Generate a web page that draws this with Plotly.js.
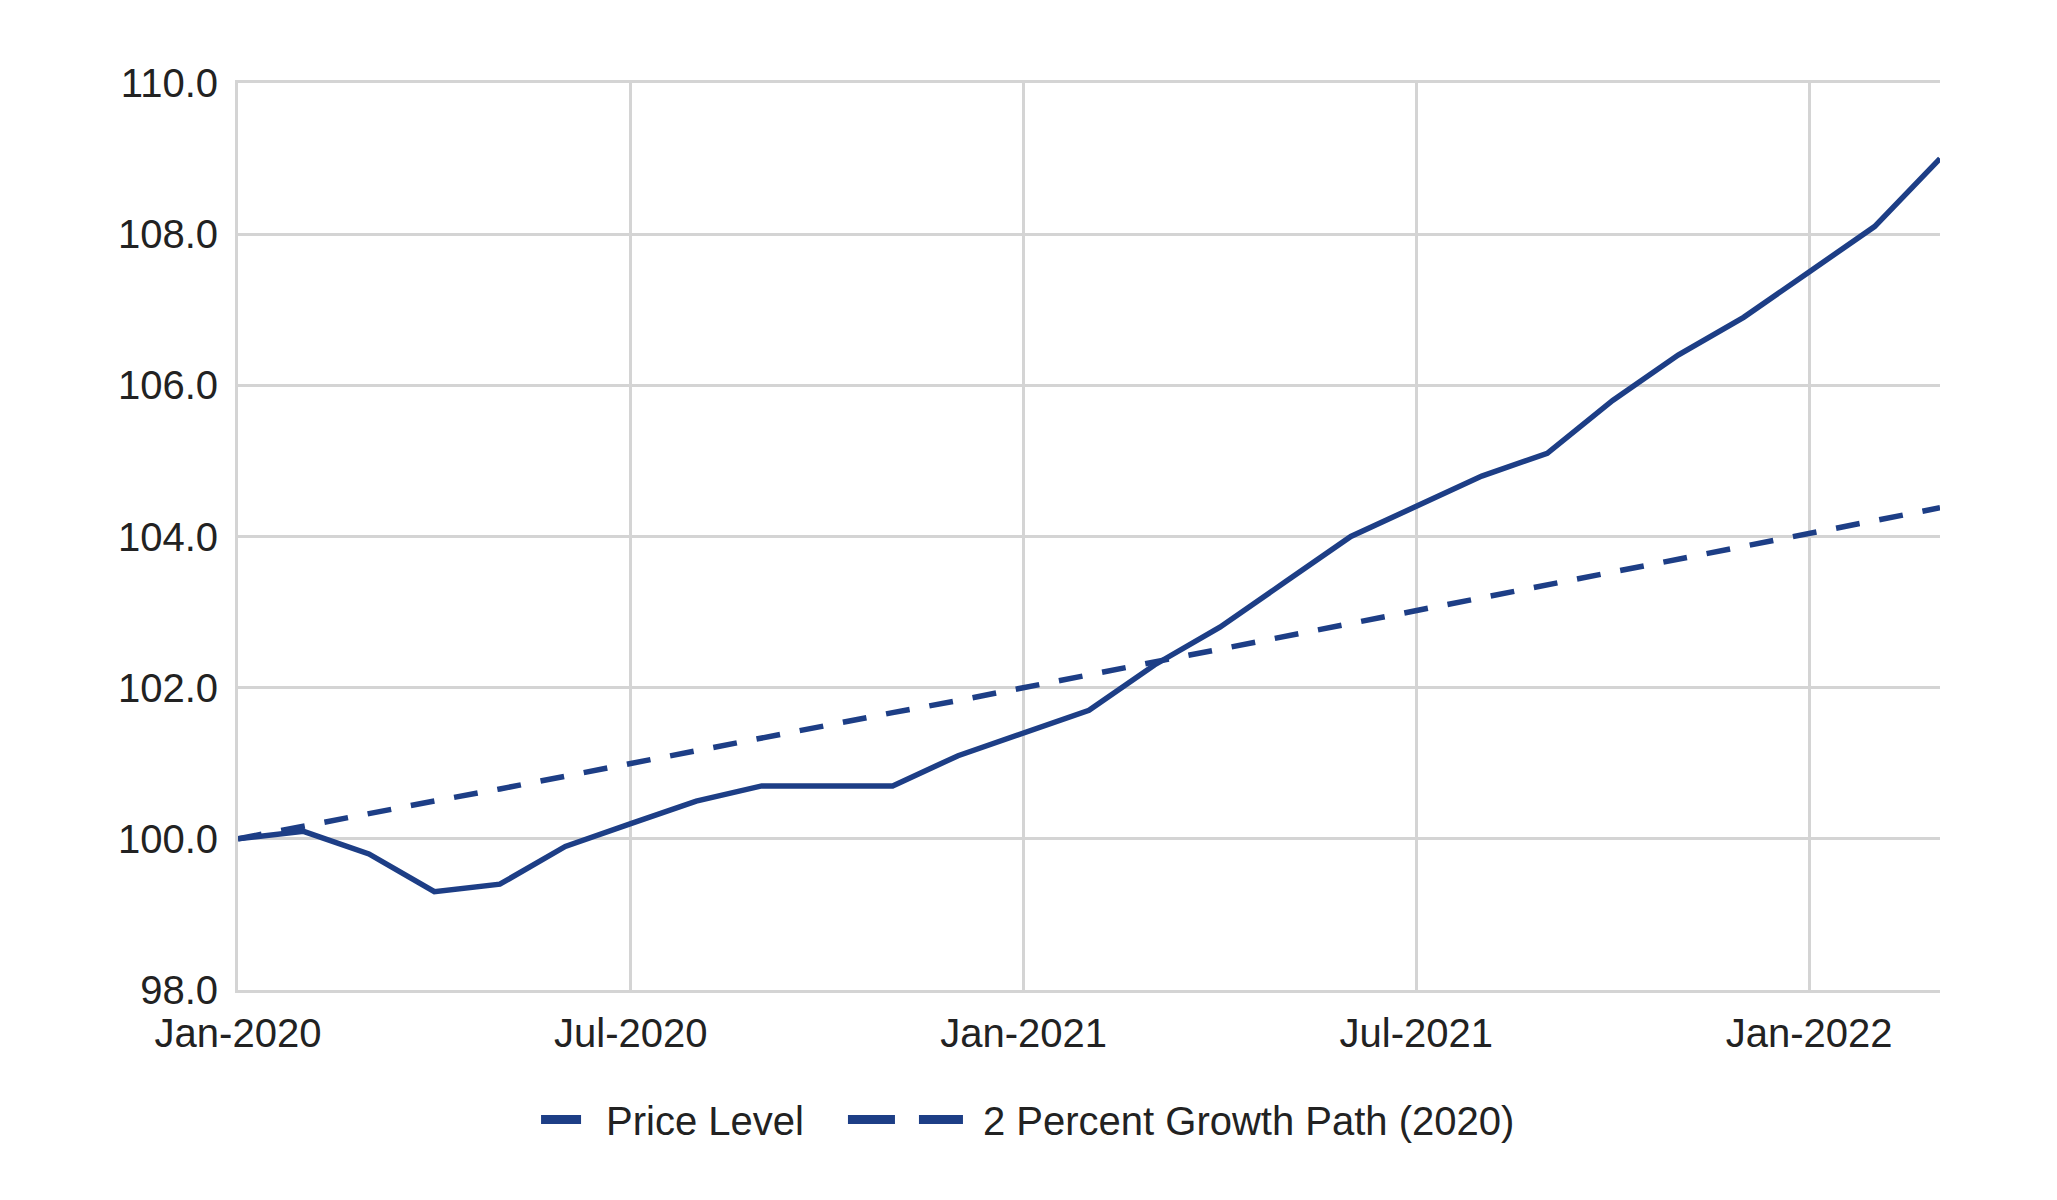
<!DOCTYPE html>
<html>
<head>
<meta charset="utf-8">
<script src="https://cdn.plot.ly/plotly-3.0.1.min.js"></script>
<style>
  html, body { margin: 0; padding: 0; background: #ffffff; }
  #grafico { width: 2057px; height: 1200px; }
</style>
</head>
<body>
<div id="grafico"></div>
<script>
// monthly categories, Jan-2020 .. Mar-2022
var meses = [
  'Jan-2020', 'Feb-2020', 'Mar-2020', 'Apr-2020', 'May-2020', 'Jun-2020',
  'Jul-2020', 'Aug-2020', 'Sep-2020', 'Oct-2020', 'Nov-2020', 'Dec-2020',
  'Jan-2021', 'Feb-2021', 'Mar-2021', 'Apr-2021', 'May-2021', 'Jun-2021',
  'Jul-2021', 'Aug-2021', 'Sep-2021', 'Oct-2021', 'Nov-2021', 'Dec-2021',
  'Jan-2022', 'Feb-2022', 'Mar-2022'
];

var nivelPrecos = [
  100.0, 100.1, 99.8, 99.3, 99.4, 99.9,
  100.2, 100.5, 100.7, 100.7, 100.7, 101.1,
  101.4, 101.7, 102.3, 102.8, 103.4, 104.0,
  104.4, 104.8, 105.1, 105.8, 106.4, 106.9,
  107.5, 108.1, 109.0
];

var trajetoria2pct = [
  100.0, 100.17, 100.33, 100.50, 100.66, 100.83,
  101.0, 101.16, 101.33, 101.50, 101.67, 101.83,
  102.0, 102.17, 102.34, 102.51, 102.68, 102.85,
  103.02, 103.19, 103.36, 103.53, 103.70, 103.87,
  104.04, 104.21, 104.38
];

var nomes = ['Price Level', '2 Percent Growth Path (2020)'];
var ticksX = ['Jan-2020', 'Jul-2020', 'Jan-2021', 'Jul-2021', 'Jan-2022'];
var ticksY = [98, 100, 102, 104, 106, 108, 110];

var azul = '#1d3e86';
var cinza = '#d4d4d4';
var fonte = 'Liberation Sans, Arial, sans-serif';

var traces = [
  {
    x: meses, y: nivelPrecos,
    type: 'scatter', mode: 'lines', name: nomes[0], showlegend: false,
    line: { color: azul, width: 5.5 }
  },
  {
    x: meses, y: trajetoria2pct,
    type: 'scatter', mode: 'lines', name: nomes[1], showlegend: false,
    line: { color: azul, width: 5.5, dash: '24px,20px' }
  },
  // legend entries only (short thick symbols like the original legend)
  {
    x: [null], y: [null],
    type: 'scatter', mode: 'lines', name: nomes[0], legend: 'legend',
    line: { color: azul, width: 9, dash: '40px,300px' }
  },
  {
    x: [null], y: [null],
    type: 'scatter', mode: 'lines', name: nomes[1], legend: 'legend2',
    line: { color: azul, width: 9, dash: '47px,24px,44px,300px' }
  }
];

var legendaBase = {
  orientation: 'h',
  xref: 'container', yref: 'container',
  xanchor: 'left', y: 0.067, yanchor: 'middle',
  bgcolor: 'rgba(0,0,0,0)',
  font: { family: fonte, size: 40, color: '#222222' }
};

var layout = {
  width: 2057, height: 1200,
  paper_bgcolor: '#ffffff', plot_bgcolor: '#ffffff',
  font: { family: fonte, size: 40, color: '#222222' },
  margin: { l: 238, r: 117, t: 83, b: 210 },
  showlegend: true,
  legend: Object.assign({}, legendaBase, { x: 0.2606, itemwidth: 60 }),
  legend2: Object.assign({}, legendaBase, { x: 0.4098, itemwidth: 130 }),
  xaxis: {
    type: 'category',
    categoryorder: 'array', categoryarray: meses,
    range: [0, meses.length - 1],
    tickmode: 'array', tickvals: ticksX, ticktext: ticksX,
    showgrid: true, gridcolor: cinza, gridwidth: 3,
    showline: true, linecolor: cinza, linewidth: 3, mirror: true,
    ticks: '', ticklabelstandoff: 6,
    tickfont: { family: fonte, size: 40, color: '#222222' },
    zeroline: false, fixedrange: true
  },
  yaxis: {
    range: [98, 110],
    tickmode: 'array', tickvals: ticksY,
    ticktext: ticksY.map(function(v) { return v.toFixed(1); }),
    showgrid: true, gridcolor: cinza, gridwidth: 3,
    showline: true, linecolor: cinza, linewidth: 3,
    ticks: '', ticklabelstandoff: 9,
    tickfont: { family: fonte, size: 40, color: '#222222' },
    zeroline: false, fixedrange: true
  }
};

Plotly.newPlot('grafico', traces, layout, { displayModeBar: false, staticPlot: true });
</script>
</body>
</html>
